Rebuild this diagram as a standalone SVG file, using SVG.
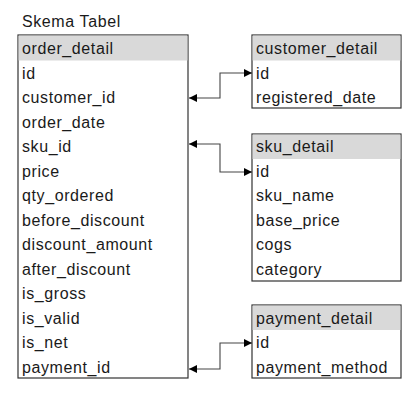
<svg xmlns="http://www.w3.org/2000/svg" width="420" height="402" viewBox="0 0 420 402">
<defs>
<style>
text{font-family:"Liberation Sans",Arial,sans-serif;font-size:16px;fill:#1a1a1a;letter-spacing:0.6px}
.box{fill:#fff;stroke:#333;stroke-width:1.2}
.hdr{fill:#d9d9d9}
.con{fill:none;stroke:#444;stroke-width:1.1}
</style>
<marker id="ah" viewBox="0 0 10 10" refX="10" refY="5" markerWidth="9" markerHeight="8" markerUnits="userSpaceOnUse" orient="auto-start-reverse">
<path d="M0,0 L10,5 L0,10 z" fill="#000"/>
</marker>
</defs>
<rect width="420" height="402" fill="#fff"/>
<text x="22" y="27">Skema Tabel</text>
<g id="order_detail">
<rect class="box" x="18" y="35" width="170" height="343"/>
<rect class="hdr" x="18.6" y="35.6" width="168.8" height="24.9"/>
<text x="22" y="54">order_detail</text>
<text x="22" y="78.5">id</text>
<text x="22" y="103">customer_id</text>
<text x="22" y="127.5">order_date</text>
<text x="22" y="152">sku_id</text>
<text x="22" y="176.5">price</text>
<text x="22" y="201">qty_ordered</text>
<text x="22" y="225.5">before_discount</text>
<text x="22" y="250">discount_amount</text>
<text x="22" y="274.5">after_discount</text>
<text x="22" y="299">is_gross</text>
<text x="22" y="323.5">is_valid</text>
<text x="22" y="348">is_net</text>
<text x="22" y="372.5">payment_id</text>
</g>
<g id="customer_detail">
<rect class="box" x="252" y="35" width="149" height="73"/>
<rect class="hdr" x="252.6" y="35.6" width="147.8" height="24.9"/>
<text x="256" y="54">customer_detail</text>
<text x="256" y="78.5">id</text>
<text x="256" y="103">registered_date</text>
</g>
<g id="sku_detail">
<rect class="box" x="252" y="134" width="149" height="147"/>
<rect class="hdr" x="252.6" y="134.6" width="147.8" height="24.4"/>
<text x="256" y="152">sku_detail</text>
<text x="256" y="176.5">id</text>
<text x="256" y="201">sku_name</text>
<text x="256" y="225.5">base_price</text>
<text x="256" y="250">cogs</text>
<text x="256" y="274.5">category</text>
</g>
<g id="payment_detail">
<rect class="box" x="252" y="305" width="149" height="73"/>
<rect class="hdr" x="252.6" y="305.6" width="147.8" height="24.4"/>
<text x="256" y="323.5">payment_detail</text>
<text x="256" y="348">id</text>
<text x="256" y="372.5">payment_method</text>
</g>
<g id="connectors">
<path class="con" d="M189,98 H220 V73 H252" marker-start="url(#ah)" marker-end="url(#ah)"/>
<path class="con" d="M189,144 H220 V172 H252" marker-start="url(#ah)" marker-end="url(#ah)"/>
<path class="con" d="M189,369 H220 V343 H252" marker-start="url(#ah)" marker-end="url(#ah)"/>
</g>
</svg>
